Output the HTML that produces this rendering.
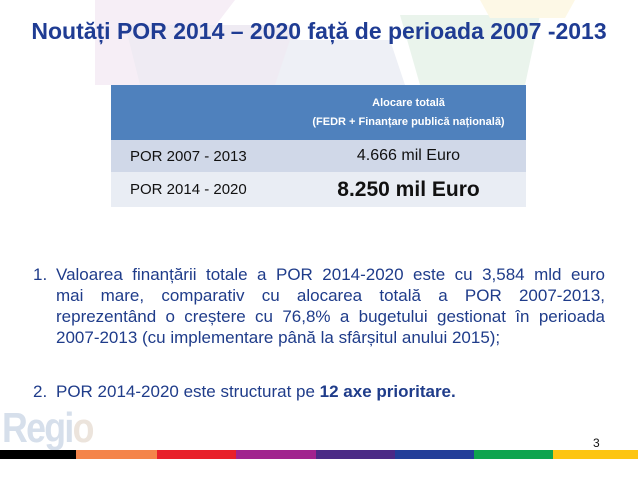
<!DOCTYPE html>
<html><head><meta charset="utf-8">
<style>
*{margin:0;padding:0;box-sizing:border-box}
body{width:638px;height:478px;background:#fff;position:relative;overflow:hidden;font-family:"Liberation Sans",Arial,sans-serif}
#bg{position:absolute;left:0;top:0}
h1{position:absolute;left:0;top:18px;width:638px;text-align:center;font-size:23px;font-weight:bold;color:#1f3c93;white-space:nowrap}
table{position:absolute;left:111px;top:85px;width:415px;border-collapse:collapse}
td{font-size:15px;color:#111}
.hd td{background:#4f81bd;height:55px;color:#fff;font-size:11px;text-align:center;line-height:19px}
.r1 td{background:#d0d8e8;height:32px}
.r2 td{background:#e9edf4;height:35px}
.c1{width:180px;padding-left:19px}
.c2{text-align:center}
.txt{position:absolute;left:33px;width:572px;font-size:17px;line-height:21px;color:#1f3c8a}
.txt .n{position:absolute;left:0;top:0}
.txt .l{margin-left:23px;text-align:justify;text-align-last:justify;white-space:nowrap}
.txt .ll{margin-left:23px;white-space:nowrap}
.bar{position:absolute;top:450px;height:9px}
</style></head>
<body>
<svg id="bg" width="638" height="478">
<polygon points="95,0 235,0 170,85 95,85" fill="#f6eef6"/>
<polygon points="125,25 290,25 320,85 140,85" fill="#efebf3"/>
<polygon points="290,40 390,40 405,85 275,85" fill="#eef0f6"/>
<polygon points="400,15 540,15 525,85 420,85" fill="#eaf4ec"/>
<polygon points="480,0 575,0 565,18 490,18" fill="#fdf8e6"/>
</svg>
<h1>Noutăți POR 2014 – 2020 față de perioada 2007 -2013</h1>
<table>
<tr class="hd"><td class="c1"></td><td class="c2" style="font-weight:bold">Alocare totală<br>(FEDR + Finanțare publică națională)</td></tr>
<tr class="r1"><td class="c1">POR 2007 - 2013</td><td class="c2" style="font-size:16px">4.666 mil Euro</td></tr>
<tr class="r2"><td class="c1">POR 2014 - 2020</td><td class="c2" style="font-size:21px;font-weight:bold">8.250 mil Euro</td></tr>
</table>
<div class="txt" style="top:264px"><span class="n">1.</span>
<div class="l">Valoarea finanțării totale a POR 2014-2020 este cu 3,584 mld euro</div>
<div class="l">mai mare, comparativ cu alocarea totală a POR 2007-2013,</div>
<div class="l">reprezentând o creștere cu 76,8% a bugetului gestionat în perioada</div>
<div class="ll">2007-2013 (cu implementare până la sfârșitul anului 2015);</div></div>
<div class="txt" style="top:381px"><span class="n">2.</span><div class="ll">POR 2014-2020 este structurat pe <b>12 axe prioritare.</b></div></div>
<div style="position:absolute;left:2px;top:404px;font-size:42px;font-weight:bold;color:#d6dfeb;letter-spacing:-2px;transform:scaleX(0.85);transform-origin:left">Regi<span style="color:#ece4dc">o</span></div>
<div style="position:absolute;left:593px;top:436px;font-size:12px;color:#111">3</div>
<div class="bar" style="left:0;width:76px;background:#000"></div>
<div class="bar" style="left:76px;width:81px;background:#f4844a"></div>
<div class="bar" style="left:157px;width:79px;background:#e8202a"></div>
<div class="bar" style="left:236px;width:80px;background:#a1238e"></div>
<div class="bar" style="left:316px;width:79px;background:#4b2a86"></div>
<div class="bar" style="left:395px;width:79px;background:#223e99"></div>
<div class="bar" style="left:474px;width:79px;background:#0ea44e"></div>
<div class="bar" style="left:553px;width:85px;background:#fdc512"></div>
</body></html>
